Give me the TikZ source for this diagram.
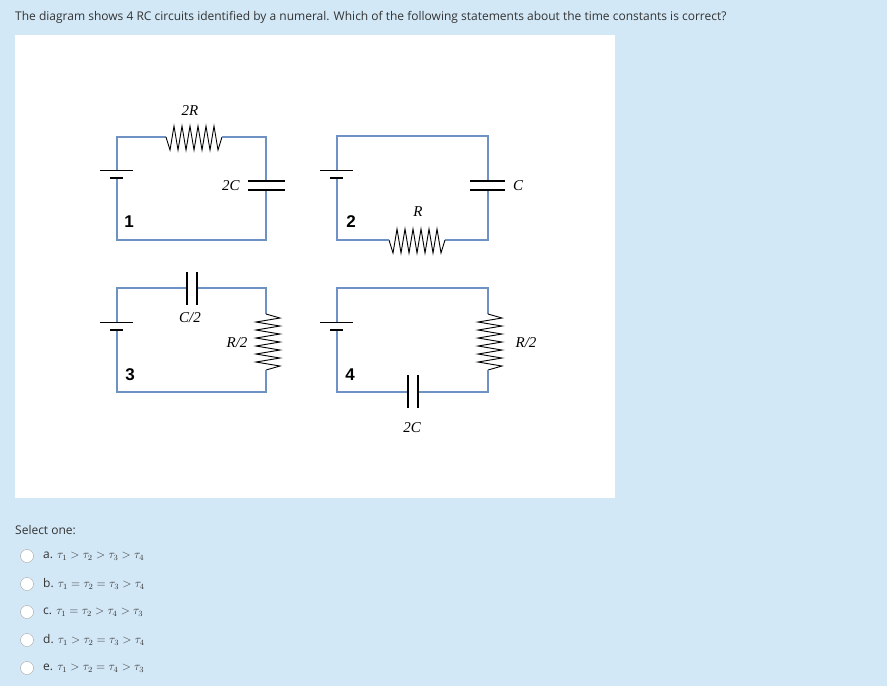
\documentclass[tikz,border=0pt]{standalone}
\usepackage{fontspec}
\setmainfont{Open Sans}
\newfontfamily\serif{Liberation Serif}
\newfontfamily\bsans{Liberation Sans}[Scale=1.0]
\begin{document}
\begin{tikzpicture}[x=1pt,y=-1pt,
  wire/.style={draw=wirec,line width=1.1pt},
  plate/.style={draw=black,line width=2.2pt},
  lab/.style={font=\serif\itshape\fontsize{15}{15}\selectfont,inner sep=0},
  num/.style={font=\bsans\bfseries\fontsize{17}{17}\selectfont,inner sep=0},
  opt/.style={font=\fontsize{12}{12}\selectfont,text=txt,anchor=west,inner sep=0},
  radio/.style={circle,draw=gray!70,fill=white,minimum size=13pt,inner sep=0}]
\definecolor{bg}{HTML}{D3E8F6}
\definecolor{wirec}{HTML}{6E92C4}
\definecolor{txt}{HTML}{333333}
\colorlet{wirec}{wirec}
\fill[bg] (0,0) rectangle (887,686);
\useasboundingbox (0,0) rectangle (887,686);
\fill[white] (15,35) rectangle (615,498);
\node[opt] (title) at (15,17) {The diagram shows 4 RC circuits identified by a numeral. Which of the following statements about the time constants is correct?};
% Circuit 1
\draw[wire] (117,170) -- (117,137) -- (166,137);
\draw[black,line width=0.9pt] (166,137) -- (170,150) -- (174,126) -- (178,150) -- (182,126) -- (186,150) -- (190,126) -- (194,150) -- (198,126) -- (202,150) -- (206,126) -- (210,150) -- (214,126) -- (218,150) -- (222,137);
\draw[wire] (222,137) -- (266,137) -- (266,180);
\draw[wire] (266,190) -- (266,240) -- (117,240) -- (117,178);
\draw[black,line width=1pt] (100,170) -- (133,170);
\draw[plate] (110,178) -- (123,178);
\draw[plate] (248,181) -- (285,181);
\draw[plate] (248,190) -- (285,190);
\node[lab] (l2R) at (190,111) {2R};
\node[lab] (l2C) at (231,186) {2C};
\node[num] (n1) at (129,222) {1};
% Circuit 2
\draw[wire] (337,170) -- (337,136) -- (488,136) -- (488,180);
\draw[wire] (488,190) -- (488,240) -- (445,240);
\draw[black,line width=0.9pt] (389,240) -- (393,253) -- (397,229) -- (401,253) -- (405,229) -- (409,253) -- (413,229) -- (417,253) -- (421,229) -- (425,253) -- (429,229) -- (433,253) -- (437,229) -- (441,253) -- (445,240);
\draw[wire] (389,240) -- (337,240) -- (337,178);
\draw[black,line width=1pt] (320,170) -- (353,170);
\draw[plate] (330,178) -- (343,178);
\draw[plate] (470,181) -- (505,181);
\draw[plate] (470,190) -- (505,190);
\node[lab] (lC) at (518,186) {C};
\node[lab] (lR) at (418,212) {R};
\node[num] (n2) at (351,222) {2};
% Circuit 3
\draw[wire] (117,322) -- (117,288) -- (187,288);
\draw[wire] (197,288) -- (266,288) -- (266,314);
\draw[plate] (187,272) -- (187,305);
\draw[plate] (197,272) -- (197,305);
\draw[black,line width=0.9pt] (266,314) -- (280,318) -- (256,322) -- (280,326) -- (256,330) -- (280,334) -- (256,338) -- (280,342) -- (256,346) -- (280,350) -- (256,354) -- (280,358) -- (256,362) -- (280,366) -- (266,370);
\draw[wire] (266,370) -- (266,392) -- (117,392) -- (117,330);
\draw[black,line width=1pt] (100,322) -- (133,322);
\draw[plate] (110,330) -- (123,330);
\node[lab] (lC2) at (190,318) {C/2};
\node[lab] (lR2a) at (237,343) {R/2};
\node[num] (n3) at (130,375) {3};
% Circuit 4
\draw[wire] (337,322) -- (337,288) -- (488,288) -- (488,314);
\draw[black,line width=0.9pt] (488,314) -- (502,318) -- (478,322) -- (502,326) -- (478,330) -- (502,334) -- (478,338) -- (502,342) -- (478,346) -- (502,350) -- (478,354) -- (502,358) -- (478,362) -- (502,366) -- (488,370);
\draw[wire] (488,370) -- (488,392) -- (418,392);
\draw[wire] (408,392) -- (337,392) -- (337,330);
\draw[plate] (408,375) -- (408,408);
\draw[plate] (418,375) -- (418,408);
\draw[black,line width=1pt] (320,322) -- (353,322);
\draw[plate] (330,330) -- (343,330);
\node[lab] (lR2b) at (526,343) {R/2};
\node[lab] (l2Cb) at (412,428) {2C};
\node[num] (n4) at (350,375) {4};
% Options
\node[opt] (sel) at (15,530) {Select one:};
\foreach \y/\l/\m in {556/a/{\tau_1>\tau_2>\tau_3>\tau_4},584/b/{\tau_1=\tau_2=\tau_3>\tau_4},612/c/{\tau_1=\tau_2>\tau_4>\tau_3},640/d/{\tau_1>\tau_2=\tau_3>\tau_4},668/e/{\tau_1>\tau_2=\tau_4>\tau_3}}{
  \node[radio] (r\l) at (27,\y) {};
  \node[opt] (o\l) at (43,\y) {\l. $\m$};
}
\end{tikzpicture}
\end{document}
